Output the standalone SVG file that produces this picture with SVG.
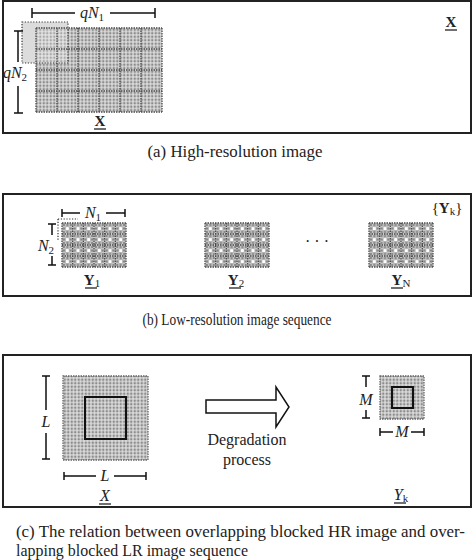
<svg xmlns="http://www.w3.org/2000/svg" width="474" height="560" viewBox="0 0 474 560">
<style>
.frame{fill:#fff;stroke:#222;stroke-width:2}
.dim{stroke:#111;stroke-width:1.5;fill:none}
.blk{stroke:#4a4a4a;stroke-width:1.3;stroke-dasharray:1.5 1;fill:none}
.dotted{stroke:#333;stroke-width:1.2;stroke-dasharray:1.2 1.6;fill:none}
.edge{stroke:#666;stroke-width:1.3;stroke-dasharray:1.5 1}
.inner{fill:none;stroke:#111;stroke-width:2}
.ul{stroke:#111;stroke-width:1.2}
text{font-family:"Liberation Serif","Times New Roman",serif;fill:#222}
.it{font-style:italic;font-size:16px}
.bf{font-weight:bold;font-size:15px}
.sub{font-style:normal;font-weight:normal;font-size:11px}
.cap{font-size:16px}
</style>
<defs>
<pattern id="dotpat" patternUnits="userSpaceOnUse" width="3.5" height="3.5">
<rect width="3.5" height="3.5" fill="#dadada"/>
<circle cx="1.75" cy="1.75" r="1.25" fill="#8c8c8c"/>
</pattern>
<pattern id="lrpat" patternUnits="userSpaceOnUse" width="10.667" height="11">
<rect width="10.667" height="11" fill="#cdcdcd"/>
<circle cx="1.9" cy="2" r="1.2" fill="#888"/>
<circle cx="5.33" cy="2" r="1.2" fill="#888"/>
<circle cx="8.8" cy="2" r="1.2" fill="#888"/>
<circle cx="1.9" cy="5.5" r="1.2" fill="#888"/>
<circle cx="8.8" cy="5.5" r="1.2" fill="#888"/>
<circle cx="1.9" cy="9" r="1.2" fill="#888"/>
<circle cx="5.33" cy="9" r="1.2" fill="#888"/>
<circle cx="8.8" cy="9" r="1.2" fill="#888"/>
<rect x="3.6" y="3.8" width="3.5" height="3.5" fill="#fff" stroke="#999" stroke-width="0.6"/>
</pattern>
<g id="lrgrid">
<rect x="0" y="0" width="64" height="44" fill="url(#lrpat)"/>
<path class="blk" d="M0 0V44M10.667 0V44M21.333 0V44M32 0V44M42.667 0V44M53.333 0V44M64 0V44M0 0H64M0 11H64M0 22H64M0 33H64M0 44H64"/>
</g>
</defs>

<!-- Panel (a) -->
<g id="panel-a">
<rect class="frame" x="3" y="1" width="468" height="132"/>
<rect x="22" y="22" width="46" height="41" fill="#dcdcdc"/>
<g id="hr-grid">
<rect x="36" y="28" width="126" height="84" fill="url(#dotpat)"/>
<rect x="36" y="28" width="32" height="35" fill="#fff" fill-opacity="0.25"/>
<path class="blk" d="M36 28V112M57 28V112M78 28V112M99 28V112M120 28V112M141 28V112M162 28V112M36 28H162M36 49H162M36 70H162M36 91H162M36 112H162"/>
</g>
<rect class="dotted" x="22" y="22" width="46" height="41"/>
<g id="dim-qN1">
<path class="dim" d="M32 8V18M32 13H75M110 13H155M155 8V18"/>
<text class="it" x="92" y="18" text-anchor="middle">qN<tspan class="sub" dy="3">1</tspan></text>
</g>
<g id="dim-qN2">
<path class="dim" d="M14 31H23M18 31V62M18 86V113M14 113H23"/>
<text class="it" x="15" y="78" text-anchor="middle">qN<tspan class="sub" dy="3">2</tspan></text>
</g>
<text class="bf" x="100" y="126" text-anchor="middle">X</text>
<line class="ul" x1="94" y1="129" x2="106" y2="129"/>
<text class="bf" x="451" y="27" text-anchor="middle">X</text>
<line class="ul" x1="445" y1="30" x2="457" y2="30"/>
</g>
<text class="cap" x="235" y="157" text-anchor="middle" textLength="175" lengthAdjust="spacingAndGlyphs">(a) High-resolution image</text>

<!-- Panel (b) -->
<g id="panel-b">
<rect class="frame" x="3" y="194" width="468" height="102"/>
<g id="Y1">
<use href="#lrgrid" transform="translate(62,223)"/>
<path class="dotted" d="M58 219H78M58 219V241"/>
<path class="dim" d="M62 209V217M62 213H80M106 213H125M125 209V217"/>
<text class="it" x="93" y="218" text-anchor="middle">N<tspan class="sub" dy="3">1</tspan></text>
<path class="dim" d="M48 224H56M52 224V235M52 256V265M48 265H56"/>
<text class="it" x="46" y="251" text-anchor="middle">N<tspan class="sub" dy="3">2</tspan></text>
<text class="bf" x="92" y="285" text-anchor="middle">Y<tspan class="sub" dy="2">1</tspan></text>
<line class="ul" x1="85" y1="288" x2="97" y2="288"/>
</g>
<g id="Y2">
<use href="#lrgrid" transform="translate(205,223)"/>
<text class="bf" x="236" y="285" text-anchor="middle">Y<tspan class="sub" dy="2">2</tspan></text>
<line class="ul" x1="229" y1="288" x2="241" y2="288"/>
</g>
<text x="317" y="247" text-anchor="middle" font-size="16">· · ·</text>
<g id="YN">
<use href="#lrgrid" transform="translate(369,223)"/>
<text class="bf" x="401" y="285" text-anchor="middle">Y<tspan class="sub" font-style="italic" dy="2">N</tspan></text>
<line class="ul" x1="391" y1="288" x2="403" y2="288"/>
</g>
<text x="447" y="213" text-anchor="middle" font-size="15">{<tspan font-weight="bold">Y</tspan><tspan class="sub" font-style="italic" dy="2">k</tspan><tspan dy="-2">}</tspan></text>
</g>
<text class="cap" x="237" y="325" text-anchor="middle" textLength="189" lengthAdjust="spacingAndGlyphs">(b) Low-resolution image sequence</text>

<!-- Panel (c) -->
<g id="panel-c">
<rect class="frame" x="3" y="355" width="468" height="152"/>
<g id="hr-block">
<rect class="edge" x="63" y="376" width="85" height="84" fill="url(#dotpat)"/>
<rect class="inner" x="85" y="397" width="41" height="42"/>
<path class="dim" d="M42 376H50M46 376V410M46 433V459M42 459H50"/>
<text class="it" x="46" y="427" text-anchor="middle">L</text>
<path class="dim" d="M64 472V480M64 476H96M114 476H146M146 472V480"/>
<text class="it" x="105" y="481" text-anchor="middle">L</text>
<text class="it" x="105" y="501" text-anchor="middle" font-size="15">X</text>
<line class="ul" x1="99" y1="504" x2="111" y2="504"/>
</g>
<g id="arrow">
<polygon points="206,400 276,400 276,387 289,407 276,427 276,413 206,413" fill="#fff" stroke="#111" stroke-width="1.5" stroke-linejoin="miter"/>
<text class="cap" font-family="Liberation Serif, serif" x="247" y="445" text-anchor="middle">Degradation</text>
<text class="cap" font-family="Liberation Serif, serif" x="247" y="465" text-anchor="middle">process</text>
</g>
<g id="lr-block">
<rect class="edge" x="380" y="376" width="44" height="43" fill="url(#dotpat)"/>
<rect class="inner" x="392" y="387" width="21" height="21"/>
<path class="dim" d="M362 376H370M366 376V387M366 410V418M362 418H370"/>
<text class="it" x="366" y="405" text-anchor="middle">M</text>
<path class="dim" d="M380 428V436M380 432H393M411 432H424M424 428V436"/>
<text class="it" x="402" y="437" text-anchor="middle">M</text>
<text class="it" x="401" y="500" text-anchor="middle" font-size="15">Y<tspan class="sub" font-style="italic" dy="2">k</tspan></text>
<line class="ul" x1="394" y1="503" x2="406" y2="503"/>
</g>
</g>
<text class="cap" x="16" y="537" textLength="449" lengthAdjust="spacingAndGlyphs">(c) The relation between overlapping blocked HR image and over-</text>
<text class="cap" x="16" y="556" textLength="232" lengthAdjust="spacingAndGlyphs">lapping blocked LR image sequence</text>
</svg>
